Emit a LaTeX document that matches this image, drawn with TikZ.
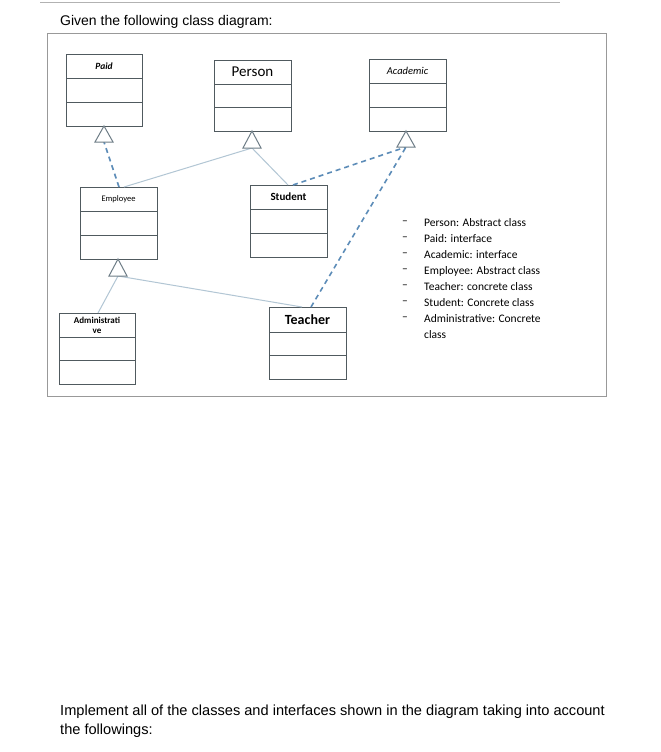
\documentclass[tikz,border=0pt]{standalone}
\usepackage{fontspec}
\setmainfont{Carlito}
\newfontfamily\arialf{Liberation Sans}
\definecolor{boxc}{RGB}{80,90,95}
\definecolor{solidc}{RGB}{178,198,212}
\definecolor{dashc}{RGB}{92,140,184}
\definecolor{tric}{RGB}{110,125,135}
\tikzset{
  boxln/.style={draw=boxc, line width=0.9pt},
  gen/.style={draw=tric, line width=1pt, fill=white},
  solidln/.style={draw=solidc, line width=1pt},
  dashln/.style={draw=dashc, line width=1.6pt, dash pattern=on 5pt off 4pt},
  lbl/.style={inner sep=0pt, anchor=center},
  legend/.style={inner sep=0pt, anchor=west, font=\fontsize{11.5}{13}\selectfont}
}
\newcommand{\umlbox}[8]{%
  \node[boxln, inner sep=0pt, anchor=north west, minimum width={(#4-#2)*1pt}, minimum height={(#5-#3)*1pt}] (#1) at (#2,#3) {};
  \draw[boxln] (#2,#6) -- (#4,#6);
  \draw[boxln] (#2,#7) -- (#4,#7);
  \node[lbl] (#1-t) at ({(#2+#4)/2},{(#3+#6)/2}) {#8};
}
\newcommand{\gentri}[4]{% name, tipx, tipy, basey
  \coordinate (#1) at (#2,#4);
  \draw[gen] (#2,#3) -- ({#2-9},#4) -- ({#2+9},#4) -- cycle;
}
\begin{document}
\begin{tikzpicture}[x=1pt,y=-1pt]
\useasboundingbox (0,0) rectangle (661,752);
\fill[white] (0,0) rectangle (661,752);
\draw[black!30, line width=0.6pt] (40,2) -- (560,2);
\node[anchor=west, inner sep=0pt, font=\arialf\fontsize{14}{16}\selectfont] (title) at (60,22) {Given the following class diagram:};
\node[draw=black!40, line width=0.8pt, inner sep=0pt, anchor=north west, minimum width=559pt, minimum height=363pt] (frame) at (47,33) {};

\umlbox{paid}{66}{54}{142}{126}{78}{102}{\fontsize{9.5}{10}\selectfont\bfseries\itshape Paid}
\umlbox{person}{214}{60}{291}{131}{84}{107}{\fontsize{15}{17}\selectfont Person}
\umlbox{academic}{369}{59}{446}{131}{83}{107}{\fontsize{10.5}{12}\selectfont\itshape Academic}
\umlbox{employee}{80}{187}{157}{259}{211}{235}{\fontsize{8.5}{9}\selectfont Employee}
\umlbox{student}{250}{185}{327}{257}{209}{233}{\fontsize{11}{12}\selectfont\bfseries Student}
\umlbox{admin}{59}{313}{135}{384}{337}{360}{}
\node[lbl, align=center, font=\fontsize{9}{10}\selectfont\bfseries] (admin-l) at (97,325) {Administrati\\ve};
\umlbox{teacher}{269}{307}{346}{379}{332}{355}{\fontsize{14}{16}\selectfont\bfseries Teacher}

\coordinate (empTop1) at (119,187);
\coordinate (empTop2) at (124,187);
\coordinate (stuTop1) at (288,185);
\coordinate (stuTop2) at (293,185);
\coordinate (teaTop1) at (311,307);
\coordinate (teaTop2) at (302,307);
\coordinate (admTop) at (98,313);

\draw[dashln] (empTop1) -- (104,142);
\draw[solidln] (empTop2) -- (252,148);
\draw[solidln] (stuTop1) -- (252,148);
\draw[dashln] (stuTop2) -- (406,147);
\draw[dashln] (teaTop1) -- (406,147);
\draw[solidln] (teaTop2) -- (118,276);
\draw[solidln] (admTop) -- (118,276);

\gentri{tpaid}{104}{126}{142}
\gentri{tperson}{252}{131}{148}
\gentri{tacad}{406}{131}{147}
\gentri{temp}{118}{259}{276}

\foreach \y/\t [count=\i] in {223/{Person: Abstract class},239/{Paid: interface},255/{Academic: interface},271/{Employee: Abstract class},287/{Teacher: concrete class},303/{Student: Concrete class},319/{Administrative: Concrete}}{
  \node[legend] (dash\i) at (402,\y) {--};
  \node[legend] (leg\i) at (424,\y) {\t};
}
\node[legend] (leg8) at (424,335) {class};

\node[anchor=west, inner sep=0pt, align=left, font=\arialf\fontsize{14.6}{19.5}\selectfont] (bottom) at (60,721) {Implement all of the classes and interfaces shown in the diagram taking into account\\the followings:};
\end{tikzpicture}
\end{document}
